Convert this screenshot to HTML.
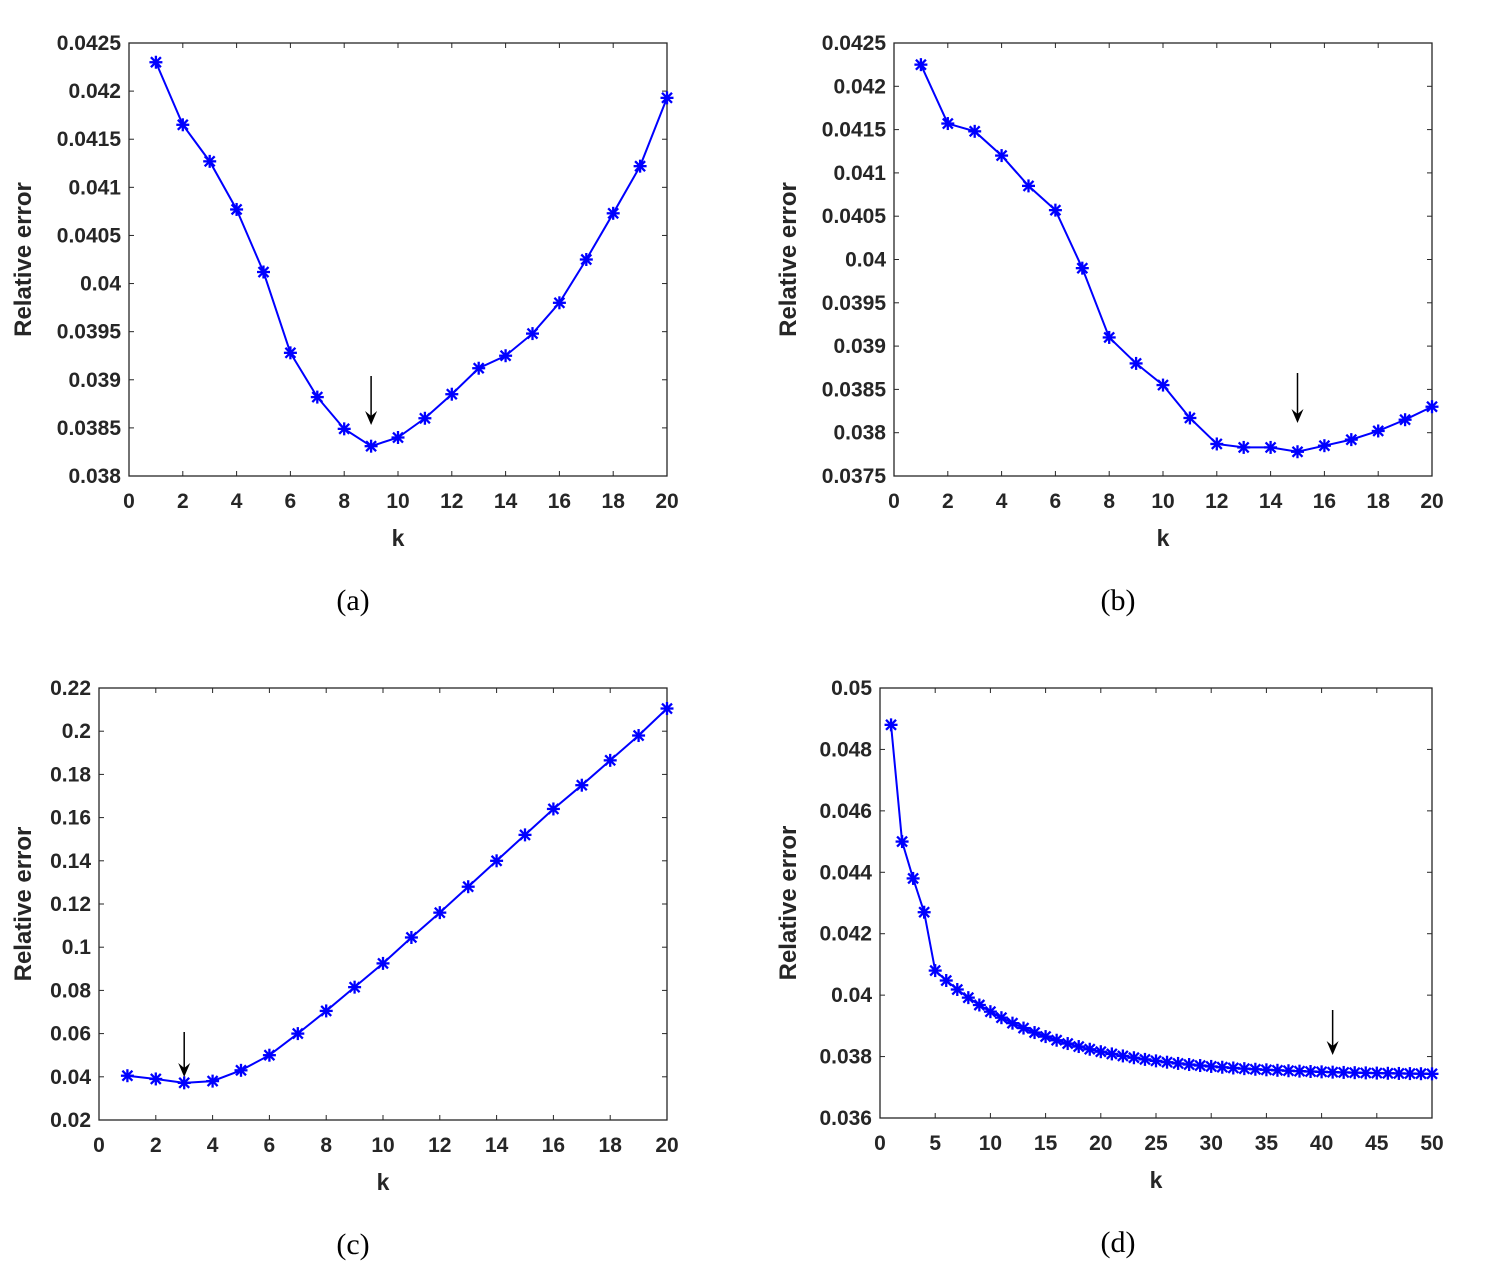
<!DOCTYPE html>
<html><head><style>body{margin:0;background:#fff}svg{display:block}</style></head>
<body>
<svg id="s" width="1504" height="1265" xmlns="http://www.w3.org/2000/svg" font-family="Liberation Sans, sans-serif"></svg>
<script>
const s=document.getElementById('s');let h='';
function plot(L,R,T,B,xmax,xstep,ymin,ymax,ystep,ydec,data,ak,a0,a1,cap,ylab,capx){
 const X=v=>L+(R-L)*v/xmax, Y=v=>B-(B-T)*(v-ymin)/(ymax-ymin);
 h+=`<rect x="${L}" y="${T}" width="${R-L}" height="${B-T}" fill="none" stroke="#262626" stroke-width="1.3"/>`;
 for(let v=0;v<=xmax+1e-9;v+=xstep){const x=X(v);
  h+=`<line x1="${x}" y1="${B}" x2="${x}" y2="${B-5}" stroke="#262626"/><line x1="${x}" y1="${T}" x2="${x}" y2="${T+5}" stroke="#262626"/>`;
  h+=`<text x="${x}" y="${B+32}" font-size="21" font-weight="bold" fill="#262626" text-anchor="middle">${v}</text>`;}
 const n=Math.round((ymax-ymin)/ystep);
 for(let i=0;i<=n;i++){const v=ymin+i*ystep,y=Y(v);
  h+=`<line x1="${L}" y1="${y}" x2="${L+5}" y2="${y}" stroke="#262626"/><line x1="${R}" y1="${y}" x2="${R-5}" y2="${y}" stroke="#262626"/>`;
  let t=(+v.toFixed(ydec)).toString();
  h+=`<text x="${L-8}" y="${y+7}" font-size="21" font-weight="bold" fill="#262626" text-anchor="end">${t}</text>`;}
 const pts=data.map((v,i)=>[X(i+1),Y(v)]);
 h+=`<polyline points="${pts.map(p=>p.join(',')).join(' ')}" fill="none" stroke="#0000ff" stroke-width="2"/>`;
 pts.forEach(([x,y])=>{h+=`<g stroke="#0000ff" stroke-width="2.3"><line x1="${x-6.5}" y1="${y}" x2="${x+6.5}" y2="${y}"/><line x1="${x}" y1="${y-6.5}" x2="${x}" y2="${y+6.5}"/><line x1="${x-5}" y1="${y-5}" x2="${x+5}" y2="${y+5}"/><line x1="${x-5}" y1="${y+5}" x2="${x+5}" y2="${y-5}"/></g>`;});
 const ax=X(ak);
 h+=`<line x1="${ax}" y1="${a0}" x2="${ax}" y2="${a1-4}" stroke="#000" stroke-width="1.5"/><path d="M${ax-6} ${a1-14} L${ax} ${a1} L${ax+6} ${a1-14} L${ax} ${a1-9}Z" fill="#000"/>`;
 h+=`<text x="${(L+R)/2}" y="${B+70}" font-size="23" font-weight="bold" fill="#262626" text-anchor="middle">k</text>`;
 h+=`<text transform="translate(${ylab},${(T+B)/2}) rotate(-90)" font-size="24" font-weight="bold" fill="#262626" text-anchor="middle">Relative error</text>`;
 h+=`<text x="${capx}" y="${B+134}" font-size="30" font-family="Liberation Serif, serif" fill="#000" text-anchor="middle">${cap}</text>`;
}
plot(129,667,43,476,20,2,0.038,0.0425,0.0005,4,[0.0423,0.04165,0.04127,0.04077,0.04012,0.03928,0.03882,0.03849,0.03831,0.0384,0.0386,0.03885,0.03912,0.03925,0.03948,0.0398,0.04025,0.04073,0.04122,0.04193],9,376,425,'(a)',31,353);
plot(894,1432,43,476,20,2,0.0375,0.0425,0.0005,4,[0.04225,0.04157,0.04148,0.0412,0.04085,0.04057,0.0399,0.0391,0.0388,0.03855,0.03817,0.03787,0.03783,0.03783,0.03778,0.03785,0.03792,0.03802,0.03815,0.0383],15,373,423,'(b)',796,1118);
plot(99,667,688,1120,20,2,0.02,0.22,0.02,2,[0.0405,0.039,0.0372,0.038,0.043,0.05,0.06,0.0705,0.0815,0.0925,0.1045,0.116,0.128,0.14,0.152,0.164,0.175,0.1865,0.198,0.2105],3,1032,1077,'(c)',31,353);
let d=[0.0488,0.0450,0.0438,0.0427];for(let k=5;k<=50;k++)d.push(0.0374+0.0034*Math.exp(-(k-5)/10));
plot(880,1432,688,1118,50,5,0.036,0.05,0.002,3,d,41,1010,1055,'(d)',796,1118);
s.innerHTML=h;
</script>
</body></html>
